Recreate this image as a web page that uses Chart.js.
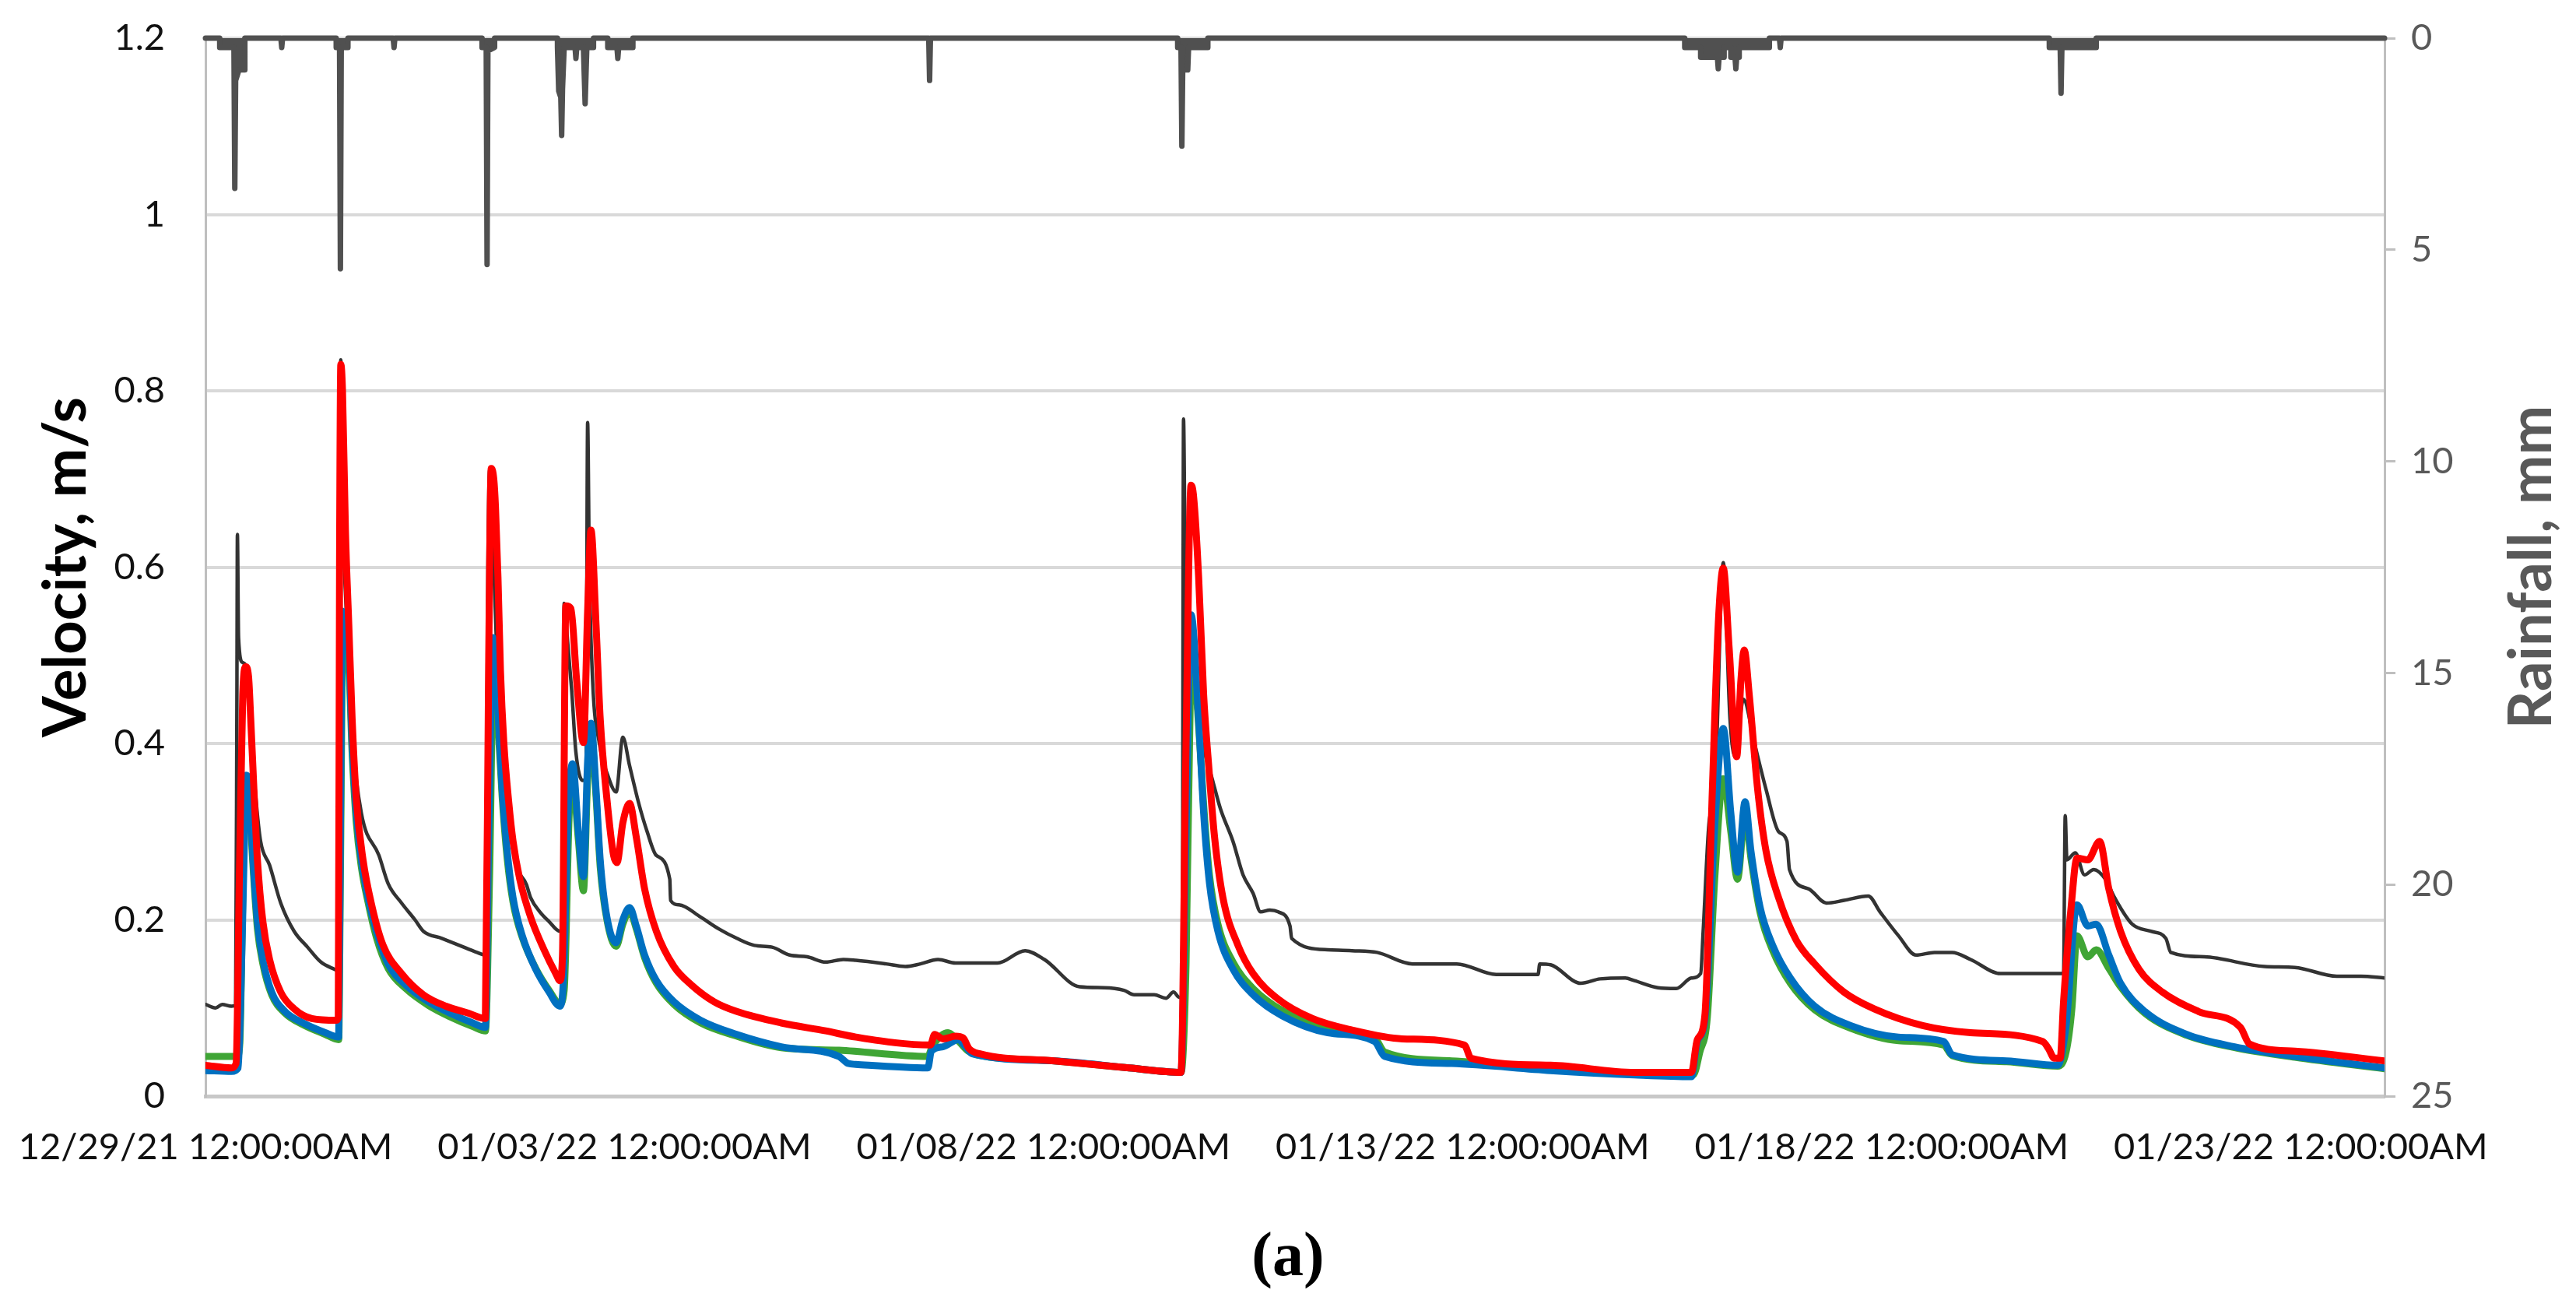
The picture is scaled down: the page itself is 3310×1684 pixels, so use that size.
<!DOCTYPE html>
<html>
<head>
<meta charset="utf-8">
<script src="https://cdn.jsdelivr.net/npm/chart.js@4.4.1/dist/chart.umd.min.js"></script>
<style>
  html, body { margin: 0; padding: 0; background: #fff; }
  #wrap { width: 3310px; height: 1684px; }
</style>
</head>
<body>
<div id="wrap"><canvas id="velocityChart" width="3310" height="1684"></canvas></div>
<script>
// X axis: days since 12/29/21 00:00
const xTickDays = [0, 5, 10, 15, 20, 25];
const xTickLabels = ['12/29/21 12:00:00AM', '01/03/22 12:00:00AM', '01/08/22 12:00:00AM',
                     '01/13/22 12:00:00AM', '01/18/22 12:00:00AM', '01/23/22 12:00:00AM'];

// Rainfall, mm (right axis, reversed)
const rainDays = [0, 0.17, 0.17, 0.34, 0.35, 0.36, 0.4, 0.47, 0.47,
  0.9, 0.91, 0.92,
  1.56, 1.56, 1.6, 1.61, 1.62, 1.7, 1.7,
  2.24, 2.25, 2.26,
  3.3, 3.3, 3.35, 3.36, 3.37, 3.45, 3.45,
  4.2, 4.2, 4.215, 4.24, 4.25, 4.26, 4.28, 4.41, 4.42, 4.43, 4.51, 4.53, 4.55, 4.63, 4.63,
  4.8, 4.8, 4.91, 4.92, 4.93, 5.1, 5.1,
  8.63, 8.64, 8.65,
  11.6, 11.6, 11.64, 11.65, 11.66, 11.72, 11.73, 11.96, 11.96,
  17.65, 17.65, 17.84, 17.84, 18.04, 18.05, 18.06, 18.12, 18.12, 18.2, 18.2, 18.25, 18.26, 18.27, 18.3, 18.3, 18.66, 18.66,
  18.78, 18.79, 18.8,
  22.0, 22.0, 22.13, 22.14, 22.15, 22.56, 22.56, 26];
const rainMm = [0, 0, 0.22, 0.22, 3.55, 1.0, 0.75, 0.75, 0,
  0, 0.22, 0,
  0, 0.22, 0.22, 5.45, 0.22, 0.22, 0,
  0, 0.22, 0,
  0, 0.22, 0.22, 5.35, 0.3, 0.22, 0,
  0, 0.22, 1.25, 1.4, 2.3, 1.2, 0.22, 0.22, 0.48, 0.22, 0.22, 1.55, 0.22, 0.22, 0,
  0, 0.22, 0.22, 0.48, 0.22, 0.22, 0,
  0, 1.0, 0,
  0, 0.22, 0.22, 2.55, 0.75, 0.75, 0.22, 0.22, 0,
  0, 0.22, 0.22, 0.45, 0.45, 0.72, 0.45, 0.45, 0.22, 0.22, 0.45, 0.45, 0.72, 0.45, 0.45, 0.22, 0.22, 0,
  0, 0.22, 0,
  0, 0.22, 0.22, 1.3, 0.22, 0.22, 0, 0];

// Observed velocity, m/s
const obsDays = [0, 0.12, 0.2, 0.31, 0.36, 0.375, 0.381, 0.395, 0.44, 0.5, 0.54, 0.6, 0.658, 0.765, 0.898,
  1.058, 1.218, 1.378, 1.538, 1.59, 1.605, 1.615, 1.63, 1.68, 1.76, 1.86, 2.07, 2.18, 2.34, 2.5, 2.6,
  2.82, 3.03, 3.24, 3.34, 3.37, 3.39, 3.42, 3.5, 3.6, 3.7, 3.83, 3.88, 3.99, 4.1, 4.23, 4.265, 4.28,
  4.3, 4.37, 4.42, 4.5, 4.54, 4.56, 4.58, 4.62, 4.7, 4.8, 4.9, 4.98, 5.06, 5.17, 5.27, 5.38, 5.54,
  5.55, 5.65, 5.91, 6.12, 6.34, 6.55, 6.76, 6.97, 7.18, 7.4, 7.61, 7.76, 8.12, 8.35, 8.53, 8.74, 8.95,
  9.45, 9.78, 10.01, 10.43, 10.72, 10.96, 11.08, 11.32, 11.46, 11.55, 11.62, 11.655, 11.67, 11.69,
  11.75, 11.85, 11.95, 12.0, 12.11, 12.26, 12.38, 12.5, 12.59, 12.7, 12.8, 12.94, 12.96, 13.39, 13.68,
  13.98, 14.4, 14.93, 15.4, 15.9, 15.92, 16.05, 16.41, 16.64, 16.94, 17.05, 17.33, 17.55, 17.73, 17.84,
  17.87, 17.94, 18.01, 18.11, 18.19, 18.25, 18.35, 18.48, 18.62, 18.77, 18.87, 18.9, 19.13, 19.34,
  19.55, 19.84, 19.98, 20.2, 20.41, 20.63, 20.84, 21.06, 21.42, 22.17, 22.19, 22.21, 22.31, 22.42,
  22.53, 22.67, 22.78, 22.99, 23.21, 23.39, 23.45, 23.85, 24.57, 24.93, 25.43, 25.72, 26];
const obsVel = [0.104, 0.100, 0.104, 0.102, 0.103, 0.45, 0.637, 0.52, 0.492, 0.484, 0.42, 0.34, 0.289, 0.262, 0.219,
  0.187, 0.169, 0.152, 0.144, 0.142, 0.6, 0.835, 0.7, 0.55, 0.40, 0.321, 0.273, 0.241, 0.219, 0.2, 0.187,
  0.179, 0.171, 0.163, 0.16, 0.6, 0.71, 0.65, 0.45, 0.33, 0.265, 0.24, 0.225, 0.209, 0.198, 0.187, 0.19, 0.559,
  0.54, 0.46, 0.39, 0.358, 0.36, 0.764, 0.6, 0.47, 0.4, 0.364, 0.345, 0.407, 0.375, 0.332, 0.3, 0.273, 0.246,
  0.222, 0.217, 0.203, 0.19, 0.179, 0.171, 0.169, 0.16, 0.158, 0.152, 0.155, 0.154, 0.15, 0.147, 0.15, 0.155, 0.151,
  0.151, 0.165, 0.155, 0.124, 0.123, 0.12, 0.115, 0.115, 0.111, 0.118, 0.112, 0.115, 0.768, 0.6,
  0.5, 0.42, 0.38, 0.364, 0.326, 0.289, 0.251, 0.23, 0.209, 0.211, 0.209, 0.193, 0.179, 0.166, 0.165,
  0.163, 0.15, 0.15, 0.138, 0.138, 0.15, 0.149, 0.128, 0.133, 0.134, 0.131, 0.123, 0.122, 0.134, 0.139,
  0.187, 0.31, 0.348, 0.605, 0.428, 0.385, 0.45, 0.401, 0.348, 0.3, 0.289, 0.257, 0.235, 0.219,
  0.222, 0.227, 0.209, 0.182, 0.16, 0.163, 0.163, 0.155, 0.139, 0.139, 0.318, 0.268, 0.276, 0.251,
  0.257, 0.246, 0.225, 0.195, 0.187, 0.179, 0.163, 0.158, 0.147, 0.146, 0.136, 0.136, 0.134];

// Model velocity (red)
const redDays = [0, 0.31, 0.365, 0.408, 0.445, 0.48, 0.514, 0.54, 0.578, 0.62, 0.685, 0.765, 0.898, 1.058, 1.27,
  1.565, 1.585, 1.6, 1.615, 1.635, 1.67, 1.71, 1.75, 1.8, 1.88, 1.99, 2.12, 2.34, 2.6, 2.87, 3.14, 3.34,
  3.38, 3.41, 3.44, 3.46, 3.49, 3.52, 3.56, 3.62, 3.67, 3.75, 3.88, 4.04, 4.18, 4.23, 4.26, 4.3, 4.36,
  4.43, 4.51, 4.56, 4.6, 4.66, 4.71, 4.79, 4.87, 4.91, 4.98, 5.06, 5.14, 5.24, 5.38, 5.59, 5.8, 6.07,
  6.34, 6.87, 7.4, 7.76, 8.65, 8.7, 8.8, 8.95, 9.04, 9.11, 9.24, 10.13, 11.02, 11.64, 11.7, 11.76, 11.79,
  11.85, 11.91, 11.97, 12.04, 12.14, 12.32, 12.5, 12.8, 13.21, 13.68, 14.28, 15.02, 15.1, 16.05, 17.05,
  17.73, 17.8, 17.89, 17.98, 18.05, 18.11, 18.18, 18.27, 18.32, 18.36, 18.42, 18.52, 18.62, 18.77, 18.98,
  19.2, 19.55, 19.91, 20.49, 21.06, 21.92, 21.99, 22.06, 22.13, 22.17, 22.26, 22.33, 22.46, 22.6, 22.71,
  22.85, 23.07, 23.35, 23.78, 24.28, 24.39, 24.93, 26];
const redVel = [0.035, 0.032, 0.037, 0.268, 0.455, 0.487, 0.476, 0.428, 0.348, 0.268, 0.198, 0.155, 0.118, 0.099, 0.088,
  0.086, 0.09, 0.6, 0.83, 0.8, 0.642, 0.535, 0.428, 0.337, 0.268, 0.214, 0.171, 0.139, 0.115, 0.102, 0.094, 0.088,
  0.5, 0.712, 0.7, 0.669, 0.589, 0.482, 0.401, 0.332, 0.289, 0.246, 0.203, 0.166, 0.139, 0.131, 0.16, 0.556, 0.553,
  0.47, 0.401, 0.55, 0.642, 0.535, 0.428, 0.337, 0.273, 0.265, 0.31, 0.332, 0.294, 0.235, 0.187, 0.147, 0.126, 0.107,
  0.096, 0.083, 0.074, 0.067, 0.058, 0.07, 0.065, 0.068, 0.066, 0.054, 0.048, 0.04, 0.032, 0.027, 0.4, 0.693, 0.68,
  0.589, 0.455, 0.375, 0.294, 0.225, 0.171, 0.139, 0.11, 0.088, 0.075, 0.065, 0.058, 0.043, 0.035, 0.027,
  0.027, 0.064, 0.091, 0.348, 0.535, 0.599, 0.508, 0.385, 0.471, 0.506, 0.455, 0.348, 0.278, 0.225, 0.177,
  0.15, 0.118, 0.099, 0.08, 0.072, 0.062, 0.054, 0.043, 0.043, 0.107, 0.214, 0.27, 0.268, 0.289, 0.235,
  0.187, 0.144, 0.118, 0.096, 0.078, 0.059, 0.051, 0.04];

// Model velocity (blue)
const blueDays = [0, 0.31, 0.39, 0.42, 0.46, 0.488, 0.525, 0.568, 0.62, 0.685, 0.79, 0.95, 1.165, 1.43, 1.59,
  1.61, 1.635, 1.67, 1.71, 1.75, 1.8, 1.86, 1.94, 2.04, 2.18, 2.39, 2.66, 2.92, 3.19, 3.34, 3.38, 3.43,
  3.48, 3.54, 3.6, 3.67, 3.78, 3.94, 4.1, 4.23, 4.27, 4.33, 4.38, 4.45, 4.51, 4.56, 4.6, 4.66, 4.71, 4.79,
  4.9, 4.98, 5.06, 5.14, 5.24, 5.38, 5.59, 5.91, 6.34, 6.87, 7.56, 7.67, 7.76, 8.62, 8.66, 8.8, 8.98, 9.07,
  9.15, 10.13, 11.02, 11.64, 11.7, 11.76, 11.85, 11.91, 11.98, 12.08, 12.26, 12.5, 12.85, 13.39, 13.95,
  14.07, 14.87, 16.05, 17.05, 17.73, 17.8, 17.89, 18.01, 18.11, 18.2, 18.28, 18.37, 18.44, 18.55, 18.7,
  18.91, 19.2, 19.63, 20.2, 20.74, 20.84, 21.49, 22.1, 22.2, 22.33, 22.46, 22.56, 22.71, 22.85, 23.14,
  23.64, 24.21, 24.93, 26];
const blueVel = [0.029, 0.028, 0.032, 0.107, 0.268, 0.364, 0.348, 0.268, 0.198, 0.155, 0.118, 0.096, 0.083, 0.072, 0.067,
  0.3, 0.55, 0.53, 0.508, 0.401, 0.321, 0.268, 0.225, 0.187, 0.15, 0.126, 0.107, 0.094, 0.083, 0.078, 0.3, 0.52,
  0.455, 0.348, 0.278, 0.225, 0.182, 0.144, 0.118, 0.102, 0.13, 0.33, 0.377, 0.3, 0.249, 0.38, 0.423, 0.348, 0.268, 0.203,
  0.174, 0.2, 0.214, 0.193, 0.16, 0.131, 0.107, 0.086, 0.07, 0.056, 0.045, 0.037, 0.036, 0.032, 0.051, 0.056, 0.064, 0.056,
  0.048, 0.04, 0.032, 0.027, 0.3, 0.546, 0.428, 0.321, 0.241, 0.187, 0.144, 0.115, 0.091, 0.072, 0.062,
  0.045, 0.037, 0.029, 0.024, 0.022, 0.062, 0.086, 0.31, 0.417, 0.321, 0.254, 0.334, 0.278, 0.214, 0.171,
  0.134, 0.102, 0.08, 0.067, 0.062, 0.047, 0.04, 0.035, 0.08, 0.217, 0.193, 0.195, 0.16, 0.128, 0.096,
  0.07, 0.056, 0.045, 0.032];

// Model velocity (green)
const greenDays = [0, 0.38, 0.41, 0.44, 0.47, 0.5, 0.53, 0.568, 0.62, 0.685, 0.79, 0.95, 1.165, 1.43, 1.59,
  1.61, 1.64, 1.67, 1.71, 1.75, 1.8, 1.86, 1.94, 2.04, 2.18, 2.39, 2.66, 2.92, 3.19, 3.34, 3.39, 3.44,
  3.48, 3.54, 3.6, 3.67, 3.78, 3.94, 4.1, 4.23, 4.28, 4.34, 4.38, 4.45, 4.51, 4.56, 4.6, 4.66, 4.71, 4.79,
  4.9, 4.98, 5.06, 5.14, 5.24, 5.38, 5.59, 5.91, 6.34, 6.87, 7.56, 8.62, 8.67, 8.86, 8.95, 9.1, 9.2,
  10.13, 11.02, 11.64, 11.7, 11.75, 11.78, 11.85, 11.91, 11.98, 12.08, 12.26, 12.5, 12.85, 13.39, 13.95,
  14.07, 14.87, 16.05, 17.05, 17.75, 17.83, 17.92, 18.01, 18.11, 18.2, 18.28, 18.37, 18.44, 18.55, 18.7,
  18.91, 19.2, 19.63, 20.2, 20.74, 20.84, 21.49, 22.1, 22.2, 22.27, 22.33, 22.46, 22.56, 22.71, 22.85,
  23.14, 23.64, 24.21, 24.93, 26];
const greenVel = [0.045, 0.045, 0.06, 0.2, 0.33, 0.34, 0.32, 0.26, 0.19, 0.15, 0.115, 0.094, 0.081, 0.07, 0.064,
  0.25, 0.52, 0.51, 0.49, 0.39, 0.31, 0.26, 0.22, 0.18, 0.145, 0.122, 0.103, 0.09, 0.079, 0.074, 0.25, 0.5,
  0.44, 0.34, 0.27, 0.22, 0.18, 0.145, 0.12, 0.105, 0.12, 0.32, 0.36, 0.29, 0.233, 0.36, 0.41, 0.34, 0.26, 0.2,
  0.17, 0.195, 0.21, 0.19, 0.157, 0.128, 0.104, 0.083, 0.068, 0.055, 0.052, 0.045, 0.056, 0.072, 0.066, 0.051, 0.047,
  0.04, 0.032, 0.027, 0.15, 0.45, 0.5, 0.42, 0.33, 0.25, 0.195, 0.152, 0.122, 0.097, 0.077, 0.066,
  0.05, 0.04, 0.031, 0.026, 0.024, 0.05, 0.09, 0.25, 0.36, 0.3, 0.246, 0.32, 0.27, 0.208, 0.165,
  0.128, 0.098, 0.077, 0.063, 0.058, 0.046, 0.039, 0.034, 0.05, 0.1, 0.182, 0.158, 0.166, 0.145, 0.124,
  0.094, 0.069, 0.055, 0.044, 0.031];

function toPoints(days, vals) {
    return days.map((d, i) => ({ x: d, y: vals[i] }));
}

// Right axis title reads bottom-to-top, so draw it ourselves
const rainTitle = {
    id: 'rainTitle',
    afterDraw(chart) {
        const { ctx, chartArea } = chart;
        ctx.save();
        ctx.translate(chartArea.right + 189, (chartArea.top + chartArea.bottom) / 2);
        ctx.rotate(-Math.PI / 2);
        ctx.font = 'bold 76px Lato';
        ctx.fillStyle = '#595959';
        ctx.textAlign = 'center';
        ctx.textBaseline = 'middle';
        ctx.fillText('Rainfall, mm', 0, 0);
        ctx.restore();
    }
};

const tickFont = { family: 'Lato', size: 47 };

// velocity lines are smoothed, rainfall stays straight
function velLine(label, days, vals, color, width) {
    return {
        label: label,
        data: toPoints(days, vals),
        borderColor: color,
        borderWidth: width,
        cubicInterpolationMode: 'monotone',
        yAxisID: 'y'
    };
}

new Chart(document.getElementById('velocityChart'), {
    type: 'line',
    data: {
        datasets: [
            velLine('Red', redDays, redVel, '#ff0000', 9),
            velLine('Blue', blueDays, blueVel, '#0070c0', 9),
            velLine('Green', greenDays, greenVel, '#3fa535', 9),
            velLine('Observed', obsDays, obsVel, '#333333', 4.5),
            { label: 'Rainfall', data: toPoints(rainDays, rainMm), borderColor: '#505050', backgroundColor: '#505050',
              borderWidth: 7, fill: 'origin', yAxisID: 'y2', clip: 8 }
        ]
    },
    options: {
        responsive: false,
        animation: false,
        devicePixelRatio: 1,
        layout: { padding: { top: 49, left: 0, right: 0, bottom: 0 } },
        elements: {
            point: { radius: 0 },
            line: { tension: 0, borderJoinStyle: 'round', borderCapStyle: 'round' }
        },
        plugins: {
            legend: { display: false },
            tooltip: { enabled: false },
            title: {
                display: true,
                position: 'bottom',
                text: '(a)',
                color: '#000',
                font: { family: 'Liberation Serif', size: 80, weight: 'bold' },
                padding: { top: 0, bottom: 19 }
            }
        },
        scales: {
            x: {
                type: 'linear',
                min: 0,
                max: 26,
                afterBuildTicks: s => { s.ticks = xTickDays.map(v => ({ value: v })); },
                afterFit: s => { s.height = 161; },
                ticks: {
                    autoSkip: false,
                    maxRotation: 0,
                    padding: 0,
                    color: '#111',
                    font: tickFont,
                    callback: v => xTickLabels[xTickDays.indexOf(v)]
                },
                // invisible tick marks give the label gap without padding the layout
                grid: { display: true, drawOnChartArea: false, drawTicks: true, tickLength: 38, tickColor: 'rgba(0,0,0,0)' },
                border: { display: true, color: '#c8c8c8', width: 5 }
            },
            y: {
                position: 'left',
                min: 0,
                max: 1.2,
                afterFit: s => { s.width = 264; },
                ticks: {
                    stepSize: 0.2,
                    padding: 0,
                    color: '#111',
                    font: tickFont,
                    callback: v => String(Math.round(v * 10) / 10)
                },
                grid: { color: '#d9d9d9', lineWidth: 4, drawTicks: true, tickLength: 52, tickColor: 'rgba(0,0,0,0)' },
                border: { color: '#bfbfbf', width: 3 },
                title: {
                    display: true,
                    text: 'Velocity, m/s',
                    color: '#000',
                    font: { family: 'Lato', size: 76, weight: 'bold' },
                    padding: { top: 40, bottom: 0 }
                }
            },
            y2: {
                position: 'right',
                min: 0,
                max: 25,
                reverse: true,
                afterFit: s => { s.width = 246; },
                ticks: { stepSize: 5, padding: 20, color: '#595959', font: tickFont },
                grid: { drawOnChartArea: false, drawTicks: true, tickLength: 14, color: '#bfbfbf', lineWidth: 3 },
                border: { color: '#bfbfbf', width: 3 }
            }
        }
    },
    plugins: [rainTitle]
});
</script>
</body>
</html>
